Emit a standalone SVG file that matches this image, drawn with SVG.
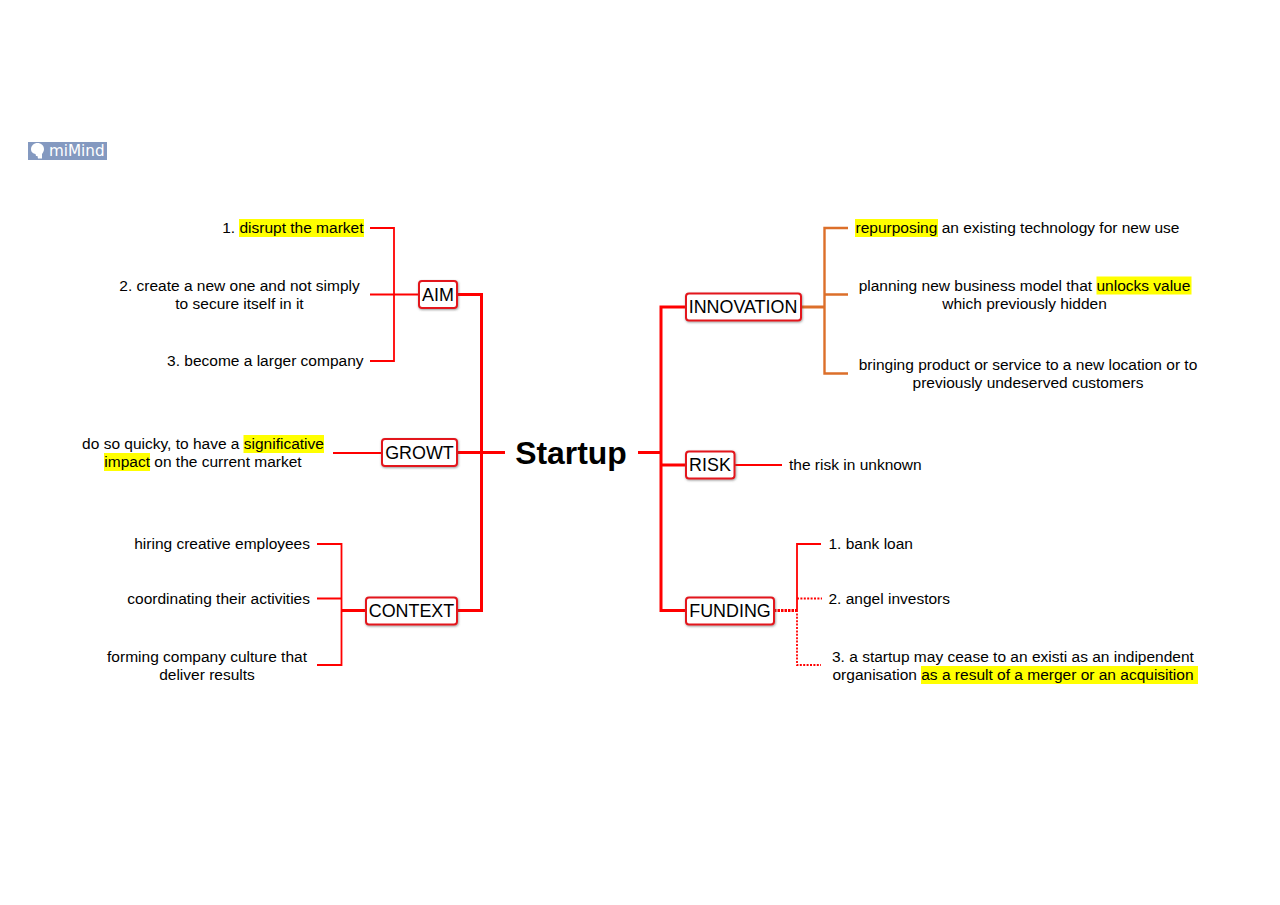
<svg xmlns="http://www.w3.org/2000/svg" width="1280" height="905" viewBox="0 0 1280 905">
<defs>
<style>
text{font-family:"Liberation Sans",Arial,sans-serif;fill:#000}
.t{font-size:15.5px}
.n{font-size:17.9px}
.m{text-anchor:middle}
.e{text-anchor:end}
.box{fill:#fff;stroke:#e3141c;stroke-width:2px}
.c{fill:none;stroke:#ff0000;stroke-width:1.8px}
.c2{fill:none;stroke:#ff0000;stroke-width:3px}
.o{fill:none;stroke:#dc6f2a;stroke-width:2.4px}
.o2{fill:none;stroke:#dc6f2a;stroke-width:3px}
.d{fill:none;stroke:#ff0000;stroke-width:1.8px;stroke-dasharray:2 1.4}
.hl{fill:#ffff00}
</style>
<filter id="sh" x="-10%" y="-20%" width="120%" height="140%"><feDropShadow dx="0.6" dy="1" stdDeviation="0.8" flood-color="#555" flood-opacity="0.6"/></filter>
</defs>
<rect width="1280" height="905" fill="#fff"/>
<g id="logo">
<rect x="28" y="142" width="79" height="18" fill="#8499c0"/>
<path d="M31 149.500c0-4 3-6.500 6.500-6.500s6.500 2.500 6.500 6c0 1.500-.5 2.500-1 3.500l-1 1.500v4.500h-4l-.5-2.500h-1.500l-.5-2c-2.500-.5-4.500-2-4.500-4.500z" fill="#fff"/>
<text x="49" y="156" style="font-family:'DejaVu Sans',sans-serif;font-size:15.200px;fill:#fff">miMind</text>
</g>
<g id="connectors">
<path class="c" d="M370 228H394V361H370M370 294.500H419"/>
<path class="c2" d="M458 294.500H481.500V610.500H458M458 452.500H505"/>
<path class="c" d="M333 453H382"/>
<path class="c" d="M317 544H341.500V665H317M317 598.500H341.500"/>
<path class="c2" d="M341.500 610.500H366"/>
<path class="c2" d="M638 452.500H661M686 307H661V610.500H686M661 465H686"/>
<path class="c" d="M735 465H782"/>
<path class="o" d="M848 228H824.500V373.500H848M824.500 294.500H848"/>
<path class="o2" d="M801 307H824.500"/>
<path class="c" d="M797 610V544H821"/>
<path class="c2" style="stroke-dasharray:2.500 1" d="M774 610.500H797"/>
<path class="d" d="M797 598.500H822M797 610V665H821"/>
</g>
<g id="root"><text x="571" y="464" class="m" style="font-size:31.900px;font-weight:700">Startup</text></g>
<g id="aim"><rect class="box" x="419" y="281" width="38" height="27" rx="3" filter="url(#sh)"/><text x="438" y="301" class="n m">AIM</text></g>
<g id="growt"><rect class="box" x="382" y="439" width="75" height="27" rx="3" filter="url(#sh)"/><text x="419.500" y="459" class="n m">GROWT</text></g>
<g id="context"><rect class="box" x="366" y="597.500" width="91" height="27" rx="3" filter="url(#sh)"/><text x="411.500" y="617" class="n m">CONTEXT</text></g>
<g id="innovation"><rect class="box" x="686" y="293.500" width="115" height="27" rx="3" filter="url(#sh)"/><text x="743" y="313" class="n m">INNOVATION</text></g>
<g id="risk"><rect class="box" x="686" y="451.500" width="48.500" height="27" rx="3" filter="url(#sh)"/><text x="710" y="471" class="n m">RISK</text></g>
<g id="funding"><rect class="box" x="686" y="597.500" width="88" height="27" rx="3" filter="url(#sh)"/><text x="730" y="617" class="n m">FUNDING</text></g>
<g id="aim-1"><rect class="hl" x="239" y="219" width="125" height="18"/><text x="363.500" y="233" class="t e">1. disrupt the market</text></g>
<g id="aim-2"><text x="239.500" y="290.500" class="t m">2. create a new one and not simply</text><text x="239.500" y="308.500" class="t m">to secure itself in it</text></g>
<g id="aim-3"><text x="363.500" y="366" class="t e">3. become a larger company</text></g>
<g id="growt-1"><rect class="hl" x="243.500" y="435" width="80.500" height="18"/><rect class="hl" x="104" y="453" width="46" height="18"/><text x="203" y="449" class="t m">do so quicky, to have a significative</text><text x="203" y="467" class="t m">impact on the current market</text></g>
<g id="context-1"><text x="310" y="549" class="t e">hiring creative employees</text></g>
<g id="context-2"><text x="310" y="603.500" class="t e">coordinating their activities</text></g>
<g id="context-3"><text x="207" y="661.500" class="t m">forming company culture that</text><text x="207" y="679.500" class="t m">deliver results</text></g>
<g id="inn-1"><rect class="hl" x="855" y="219" width="83" height="18"/><text x="855.500" y="233" class="t">repurposing an existing technology for new use</text></g>
<g id="inn-2"><rect class="hl" x="1096.500" y="276.500" width="95" height="18"/><text x="1024.500" y="290.500" class="t m">planning new business model that unlocks value</text><text x="1024.500" y="308.500" class="t m">which previously hidden</text></g>
<g id="inn-3"><text x="1028" y="369.500" class="t m">bringing product or service to a new location or to</text><text x="1028" y="387.500" class="t m">previously undeserved customers</text></g>
<g id="risk-1"><text x="789" y="470" class="t">the risk in unknown</text></g>
<g id="fund-1"><text x="828.500" y="549" class="t">1. bank loan</text></g>
<g id="fund-2"><text x="828.500" y="603.500" class="t">2. angel investors</text></g>
<g id="fund-3"><rect class="hl" x="921" y="666" width="277" height="18"/><text x="832" y="661.500" class="t">3. a startup may cease to an existi as an indipendent</text><text x="832.500" y="679.500" class="t">organisation as a result of a merger or an acquisition</text></g>
</svg>
